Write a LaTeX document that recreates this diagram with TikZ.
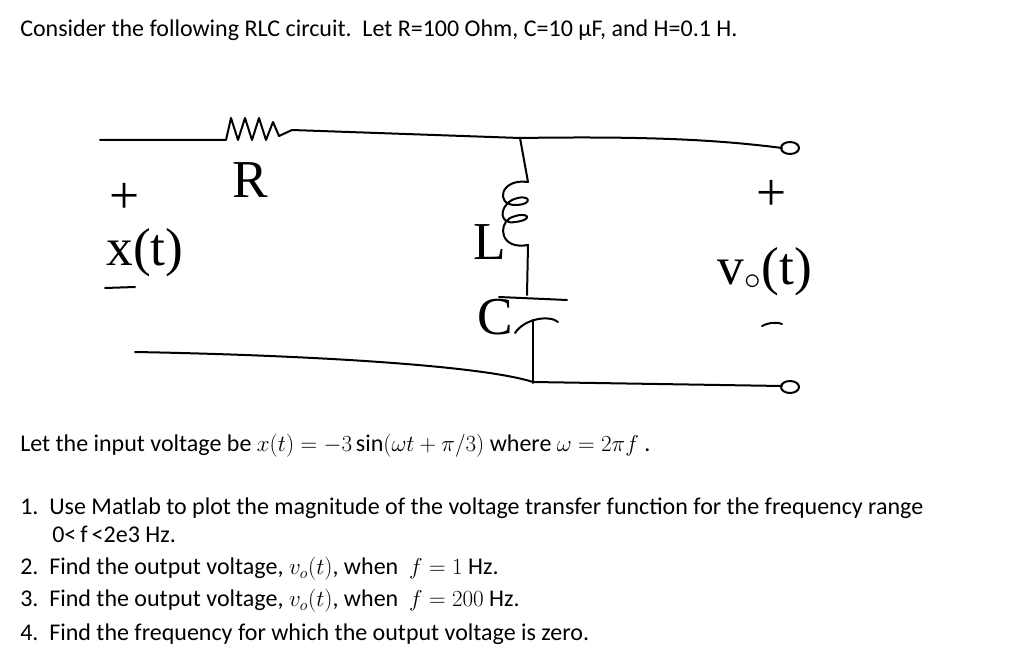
\documentclass[tikz,border=0pt]{standalone}
\usepackage{fontspec}
\setmainfont{Carlito}
\newfontfamily\hand{Liberation Serif}
\begin{document}
\begin{tikzpicture}[x=0.75pt,y=-0.75pt,
  wire/.style={line width=1.5pt,line cap=round,line join=round},
  txt/.style={anchor=west,inner sep=0,font=\fontsize{18}{21}\selectfont},
  hw/.style={inner sep=0,font=\hand\fontsize{40}{42}\selectfont}]
\useasboundingbox (0,0) rectangle (1024,659);
\node[txt] (t0) at (20,30) {Consider the following RLC circuit.\ \ Let R=100 Ohm, C=10 µF, and H=0.1 H.};
% top wire and resistor
\coordinate (a1) at (100,140);
\coordinate (r1) at (226,140);
\coordinate (r2) at (292,130);
\coordinate (j1) at (520,138);
\coordinate (o1) at (782,148);
\draw[wire] (a1) -- (r1) -- (231,118) -- (238,140) -- (245,118) -- (252,140) -- (259,118) -- (266,140) -- (273,122) -- (279,136) -- (r2) -- (j1) .. controls (650,136) and (720,140) .. (o1);
\draw[wire] (790,148) ellipse (9 and 6);
% inductor
\coordinate (l1) at (528,182);
\draw[wire] (j1) -- (l1) .. controls (500,178) and (495,205) .. (515,205)
  .. controls (535,205) and (530,192) .. (512,200) .. controls (498,208) and (500,225) .. (515,222)
  .. controls (535,220) and (528,210) .. (510,218) .. controls (498,225) and (500,250) .. (528,245) -- (527,295);
% capacitor
\draw[wire] (499,297) -- (567,300);
\draw[wire] (515,333) .. controls (525,318) and (550,315) .. (558,322);
\draw[wire] (533,320) -- (533,383);
% bottom wire
\coordinate (b1) at (135,352);
\coordinate (o2) at (782,386);
\draw[wire] (b1) .. controls (300,355) and (480,365) .. (533,382) -- (o2);
\draw[wire] (790,387) ellipse (9 and 6);
% labels
\node[hw] (lR) at (250,180) {R};
\node[hw] (lp1) at (125,198) {+};
\node[hw] (lx) at (145,253) {x(t)};
\draw[wire] (105,288) -- (135,287);
\node[hw] (lL) at (490,242) {L};
\node[hw] (lC) at (495,317) {C};
\node[hw] (lp2) at (772,195) {+};
\node[hw] (lv) at (765,272) {v$_{\scriptstyle\circ}$(t)};
\draw[wire] (762,326) .. controls (770,322) and (778,322) .. (782,324);
% lower text
\node[txt] (t1) at (20,446) {Let the input voltage be $x(t)=-3\sin(\omega t+\pi/3)$ where $\omega=2\pi f$ .};
\node[txt] (t2) at (20,508) {1.\ \ Use Matlab to plot the magnitude of the voltage transfer function for the frequency range};
\node[txt] (t2b) at (52,534) {0<\,f\,<2e3 Hz.};
\node[txt] (t3) at (20,569) {2.\ \ Find the output voltage, $v_o(t)$, when\ \ $f=1$ Hz.};
\node[txt] (t4) at (20,601) {3.\ \ Find the output voltage, $v_o(t)$, when\ \ $f=200$ Hz.};
\node[txt] (t5) at (20,634) {4.\ \ Find the frequency for which the output voltage is zero.};
\end{tikzpicture}
\end{document}
